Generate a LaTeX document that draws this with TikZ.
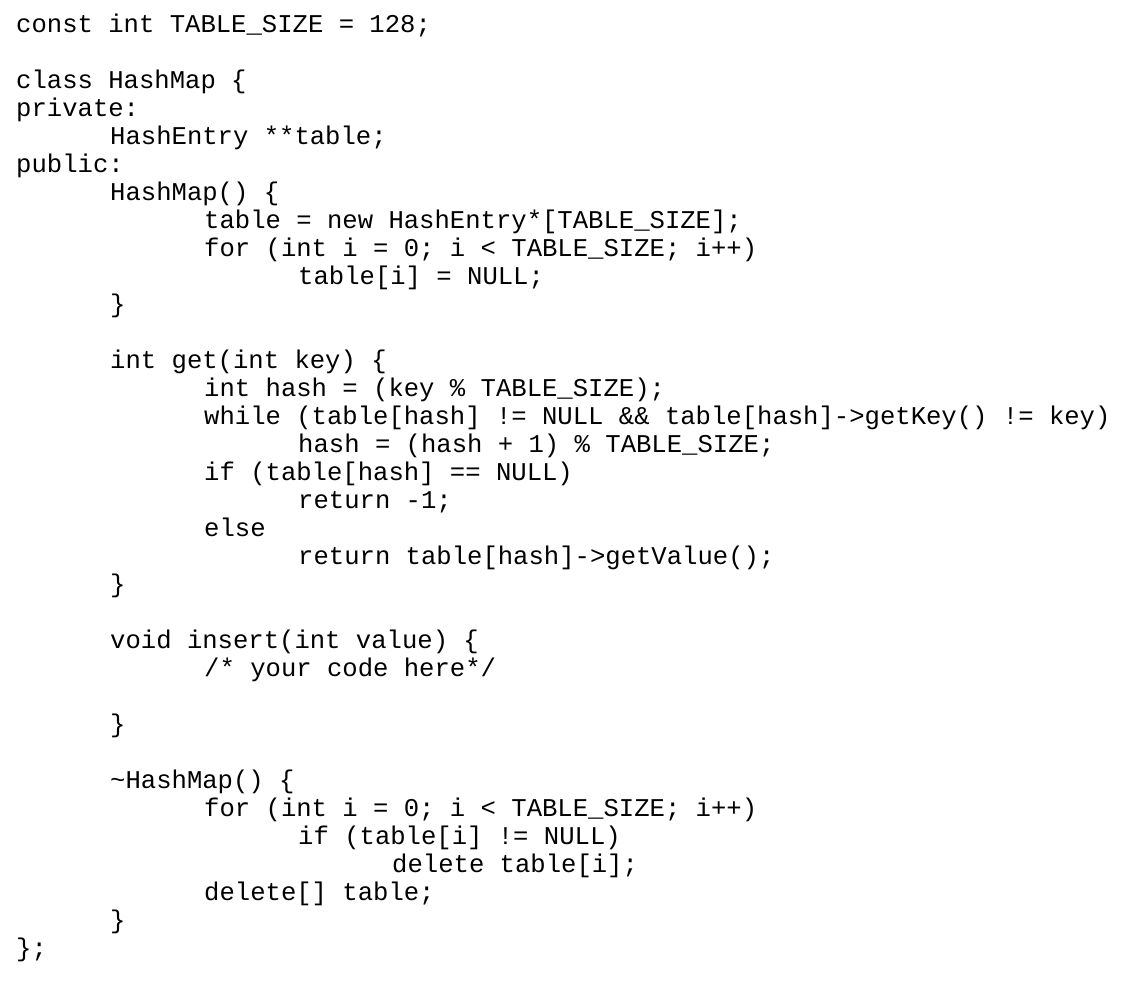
\documentclass[tikz,border=0pt]{standalone}
\usepackage{fontspec}
\setmainfont{Liberation Mono}
\begin{document}
\begin{tikzpicture}[x=1pt,y=1pt,code/.style={anchor=base west,inner sep=0pt,font=\fontsize{25.6}{28}\selectfont}]
\useasboundingbox[fill=white] (0,0) rectangle (1148,-989);
\def\a{16}\def\b{110}\def\c{204}\def\d{298}\def\e{392}
\node[code] (l1) at (\a,-32) {const int TABLE\_SIZE = 128;};
\node[code] (l3) at (\a,-88) {class HashMap \{};
\node[code] (l4) at (\a,-116) {private:};
\node[code] (l5) at (\b,-144) {HashEntry **table;};
\node[code] (l6) at (\a,-172) {public:};
\node[code] (l7) at (\b,-200) {HashMap() \{};
\node[code] (l8) at (\c,-228) {table = new HashEntry*[TABLE\_SIZE];};
\node[code] (l9) at (\c,-256) {for (int i = 0; i < TABLE\_SIZE; i++)};
\node[code] (l10) at (\d,-284) {table[i] = NULL;};
\node[code] (l11) at (\b,-312) {\}};
\node[code] (l13) at (\b,-368) {int get(int key) \{};
\node[code] (l14) at (\c,-396) {int hash = (key \% TABLE\_SIZE);};
\node[code] (l15) at (\c,-424) {while (table[hash] != NULL \&\& table[hash]->getKey() != key)};
\node[code] (l16) at (\d,-452) {hash = (hash + 1) \% TABLE\_SIZE;};
\node[code] (l17) at (\c,-480) {if (table[hash] == NULL)};
\node[code] (l18) at (\d,-508) {return -1;};
\node[code] (l19) at (\c,-536) {else};
\node[code] (l20) at (\d,-564) {return table[hash]->getValue();};
\node[code] (l21) at (\b,-592) {\}};
\node[code] (l23) at (\b,-648) {void insert(int value) \{};
\node[code] (l24) at (\c,-676) {/* your code here*/};
\node[code] (l26) at (\b,-732) {\}};
\node[code] (l28) at (\b,-788) {\textasciitilde HashMap() \{};
\node[code] (l29) at (\c,-816) {for (int i = 0; i < TABLE\_SIZE; i++)};
\node[code] (l30) at (\d,-844) {if (table[i] != NULL)};
\node[code] (l31) at (\e,-872) {delete table[i];};
\node[code] (l32) at (\c,-900) {delete[] table;};
\node[code] (l33) at (\b,-928) {\}};
\node[code] (l34) at (\a,-956) {\};};
\end{tikzpicture}
\end{document}
